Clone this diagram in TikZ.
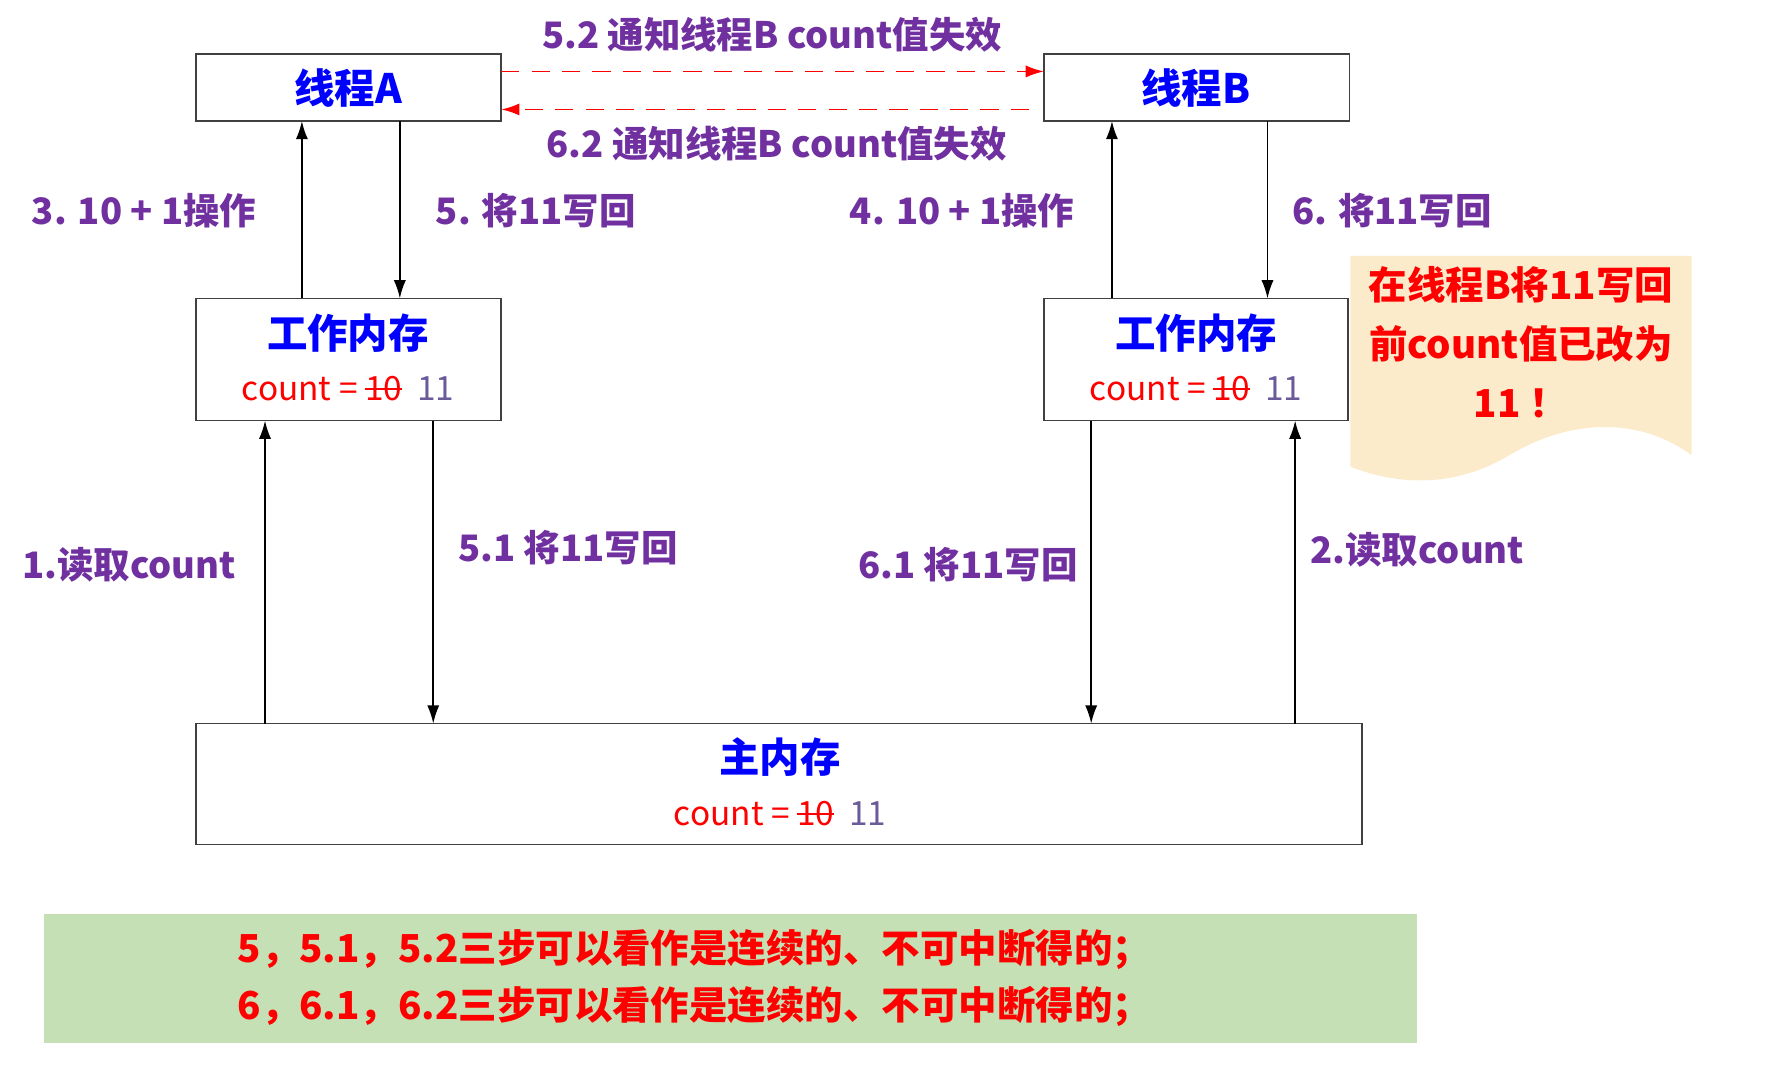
\documentclass[tikz,border=0pt]{standalone}
\usepackage{fontspec}
\setmainfont{Noto Sans CJK SC}
\usetikzlibrary{arrows.meta}
\definecolor{lab}{HTML}{7030A0}
\definecolor{tblue}{HTML}{0000FF}
\definecolor{cred}{HTML}{FF0000}
\definecolor{cnum}{HTML}{6A5A9A}
\definecolor{note}{HTML}{FCEBCB}
\definecolor{grn}{HTML}{C5E0B4}
\newcommand{\mystrk}[1]{\setbox0\hbox{#1}\rlap{\copy0}\rule[0.3em]{\wd0}{0.08em}}
\begin{document}
\begin{tikzpicture}[x=0.02cm,y=-0.02cm,
  box/.style={draw=black!75,line width=0.8pt},
  ttl/.style={text=tblue,font=\fontsize{20}{24}\selectfont\bfseries},
  cnt/.style={font=\fontsize{16.5}{19}\selectfont},
  lbl/.style={text=lab,font=\fontsize{18}{21}\selectfont\bfseries},
  arr/.style={-{Latex[length=9pt,width=6pt]},line width=0.9pt},
  rarr/.style={-{Latex[length=9pt,width=6pt]},line width=0.9pt,cred,dash pattern=on 9pt off 6pt}]
\useasboundingbox (0,0) rectangle (1550,925);
% boxes
\draw[box] (170,47) rectangle (435,105);
\node[ttl] (ta) at (302,76) {线程A};
\draw[box] (906,47) rectangle (1171,105);
\node[ttl] (tb) at (1038,76) {线程B};
\draw[box] (170,259) rectangle (435,365);
\node[ttl] (wa) at (302,289) {工作内存};
\node[cnt] (wac) at (302,337) {\textcolor{cred}{count = \mystrk{10}}\ \ \textcolor{cnum}{11}};
\draw[box] (906,259) rectangle (1170,365);
\node[ttl] (wb) at (1038,289) {工作内存};
\node[cnt] (wbc) at (1038,337) {\textcolor{cred}{count = \mystrk{10}}\ \ \textcolor{cnum}{11}};
\draw[box] (170,628) rectangle (1182,733);
\node[ttl] (mm) at (677,657) {主内存};
\node[cnt] (mmc) at (677,706) {\textcolor{cred}{count = \mystrk{10}}\ \ \textcolor{cnum}{11}};
% coordinates
\coordinate (a1) at (435,62); \coordinate (b1) at (906,62);
\coordinate (b2) at (893,95); \coordinate (a2) at (435,95);
\draw[rarr] (a1) -- (b1);
\draw[rarr] (b2) -- (a2);
\node[lbl] (l52) at (670,30) {5.2 通知线程B count值失效};
\node[lbl] (l62) at (674,125) {6.2 通知线程B count值失效};
% thread A arrows
\coordinate (p1) at (262,259); \coordinate (p2) at (262,105);
\coordinate (p3) at (347,105); \coordinate (p4) at (347,259);
\draw[arr] (p1) -- (p2); \draw[arr] (p3) -- (p4);
\node[lbl] (l3) at (125,183) {3. 10 + 1操作};
\node[lbl] (l5) at (465,183) {5. 将11写回};
\coordinate (q1) at (965,259); \coordinate (q2) at (965,105);
\coordinate (q3) at (1100,105); \coordinate (q4) at (1100,259);
\draw[arr] (q1) -- (q2); \draw[arr] (q3) -- (q4);
\node[lbl] (l4) at (835,183) {4. 10 + 1操作};
\node[lbl] (l6) at (1208,183) {6. 将11写回};
% main arrows
\coordinate (m1) at (230,628); \coordinate (m2) at (230,365);
\coordinate (m3) at (376,365); \coordinate (m4) at (376,628);
\draw[arr] (m1) -- (m2); \draw[arr] (m3) -- (m4);
\node[lbl] (l1) at (112,490) {1.读取count};
\node[lbl] (l51) at (493,475) {5.1 将11写回};
\coordinate (n1) at (947,365); \coordinate (n2) at (947,628);
\coordinate (n3) at (1124,628); \coordinate (n4) at (1124,365);
\draw[arr] (n1) -- (n2); \draw[arr] (n3) -- (n4);
\node[lbl] (l61) at (840,490) {6.1 将11写回};
\node[lbl] (l2) at (1230,477) {2.读取count};
% note
\fill[note] (1172,222) -- (1468,222) -- (1468,395) .. controls (1420,360) and (1360,365) .. (1310,395) .. controls (1260,425) and (1210,420) .. (1172,405) -- cycle;
\node[text=cred,font=\fontsize{19}{29}\selectfont\bfseries,align=center] (nt) at (1320,297) {在线程B将11写回\\前count值已改为\\11 ！};
% green
\fill[grn] (38,793) rectangle (1230,905);
\node[text=cred,font=\fontsize{19}{28}\selectfont\bfseries,align=left,anchor=west] (gt) at (200,849) {5，5.1，5.2三步可以看作是连续的、不可中断得的；\\6，6.1，6.2三步可以看作是连续的、不可中断得的；};
\end{tikzpicture}
\end{document}
